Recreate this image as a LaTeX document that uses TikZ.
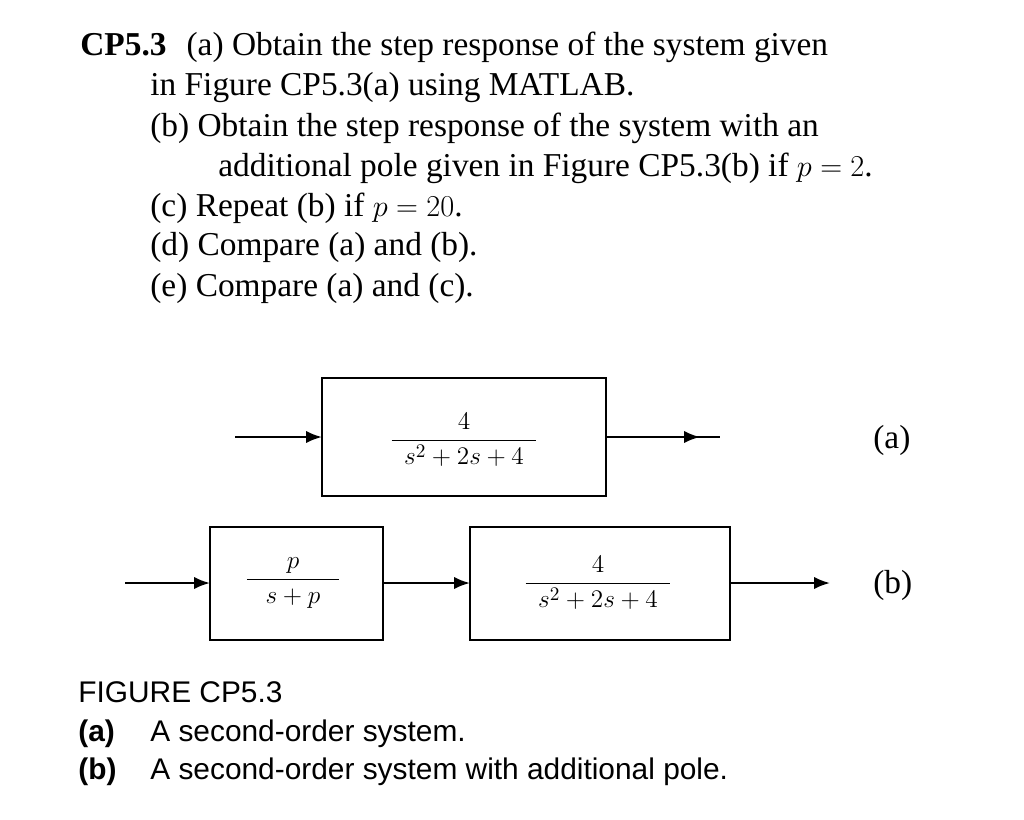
\documentclass[tikz,border=0pt]{standalone}
\usepackage{fontspec}
\setmainfont{Liberation Serif}
\setsansfont{Liberation Sans}
\usetikzlibrary{arrows.meta}
\begin{document}
\begin{tikzpicture}[x=0.02cm,y=-0.02cm,
  txt/.style={anchor=west,inner sep=0,font=\fontsize{19}{22}\selectfont},
  captxt/.style={anchor=west,inner sep=0,font=\sffamily\fontsize{17}{20}\selectfont},
  blk/.style={draw,line width=1.2pt,inner sep=0},
  fr/.style={font=\fontsize{15}{18}\selectfont},
  sig/.style={line width=1.3pt},
  arr/.style={sig,-{Latex[length=9pt,width=7pt]}}]
\useasboundingbox (0,0) rectangle (1024,819);
\node[txt] (t1) at (80,47) {\textbf{CP5.3}\hspace{0.6em}(a) Obtain the step response of the system given};
\node[txt] (t2) at (150,88) {in Figure CP5.3(a) using MATLAB.};
\node[txt] (t3) at (150,128) {(b) Obtain the step response of the system with an};
\node[txt] (t4) at (218,168) {additional pole given in Figure CP5.3(b) if $p=2$.};
\node[txt] (t5) at (150,208) {(c) Repeat (b) if $p=20$.};
\node[txt] (t6) at (150,247) {(d) Compare (a) and (b).};
\node[txt] (t7) at (150,288) {(e) Compare (a) and (c).};
% (a)
\draw[blk] (322,378) rectangle (606,496);
\node[fr] (fa) at (464,440) {$\displaystyle\frac{\makebox[5.5em]{$4$}}{s^2+2s+4}$};
\coordinate (ain) at (235,437);
\coordinate (aL) at (322,437);
\coordinate (aR) at (606,437);
\coordinate (aout) at (720,437);
\coordinate (aarr) at (700,437);
\draw[arr] (ain) -- (aL);
\draw[sig] (aR) -- (aout);
\draw[arr] (aR) -- (aarr);
\node[txt] (la) at (873,440) {(a)};
% (b)
\draw[blk] (210,527) rectangle (383,640);
\draw[blk] (470,527) rectangle (730,640);
\node[fr] (fb1) at (293,583) {$\displaystyle\frac{\makebox[3.5em]{$p$}}{s+p}$};
\node[fr] (fb2) at (598,583) {$\displaystyle\frac{\makebox[5.5em]{$4$}}{s^2+2s+4}$};
\coordinate (bin) at (125,583);
\coordinate (b1L) at (210,583);
\coordinate (b1R) at (383,583);
\coordinate (b2L) at (470,583);
\coordinate (b2R) at (730,583);
\coordinate (bout) at (830,583);
\draw[arr] (bin) -- (b1L);
\draw[arr] (b1R) -- (b2L);
\draw[arr] (b2R) -- (bout);
\node[txt] (lb) at (873,585) {(b)};
% caption
\node[captxt] (c1) at (78,692) {FIGURE CP5.3};
\node[captxt] (c2) at (78,734) {\textbf{(a)}};
\node[captxt] (c3) at (150,734) {A second-order system.};
\node[captxt] (c4) at (78,772) {\textbf{(b)}};
\node[captxt] (c5) at (150,772) {A second-order system with additional pole.};
\end{tikzpicture}
\end{document}
